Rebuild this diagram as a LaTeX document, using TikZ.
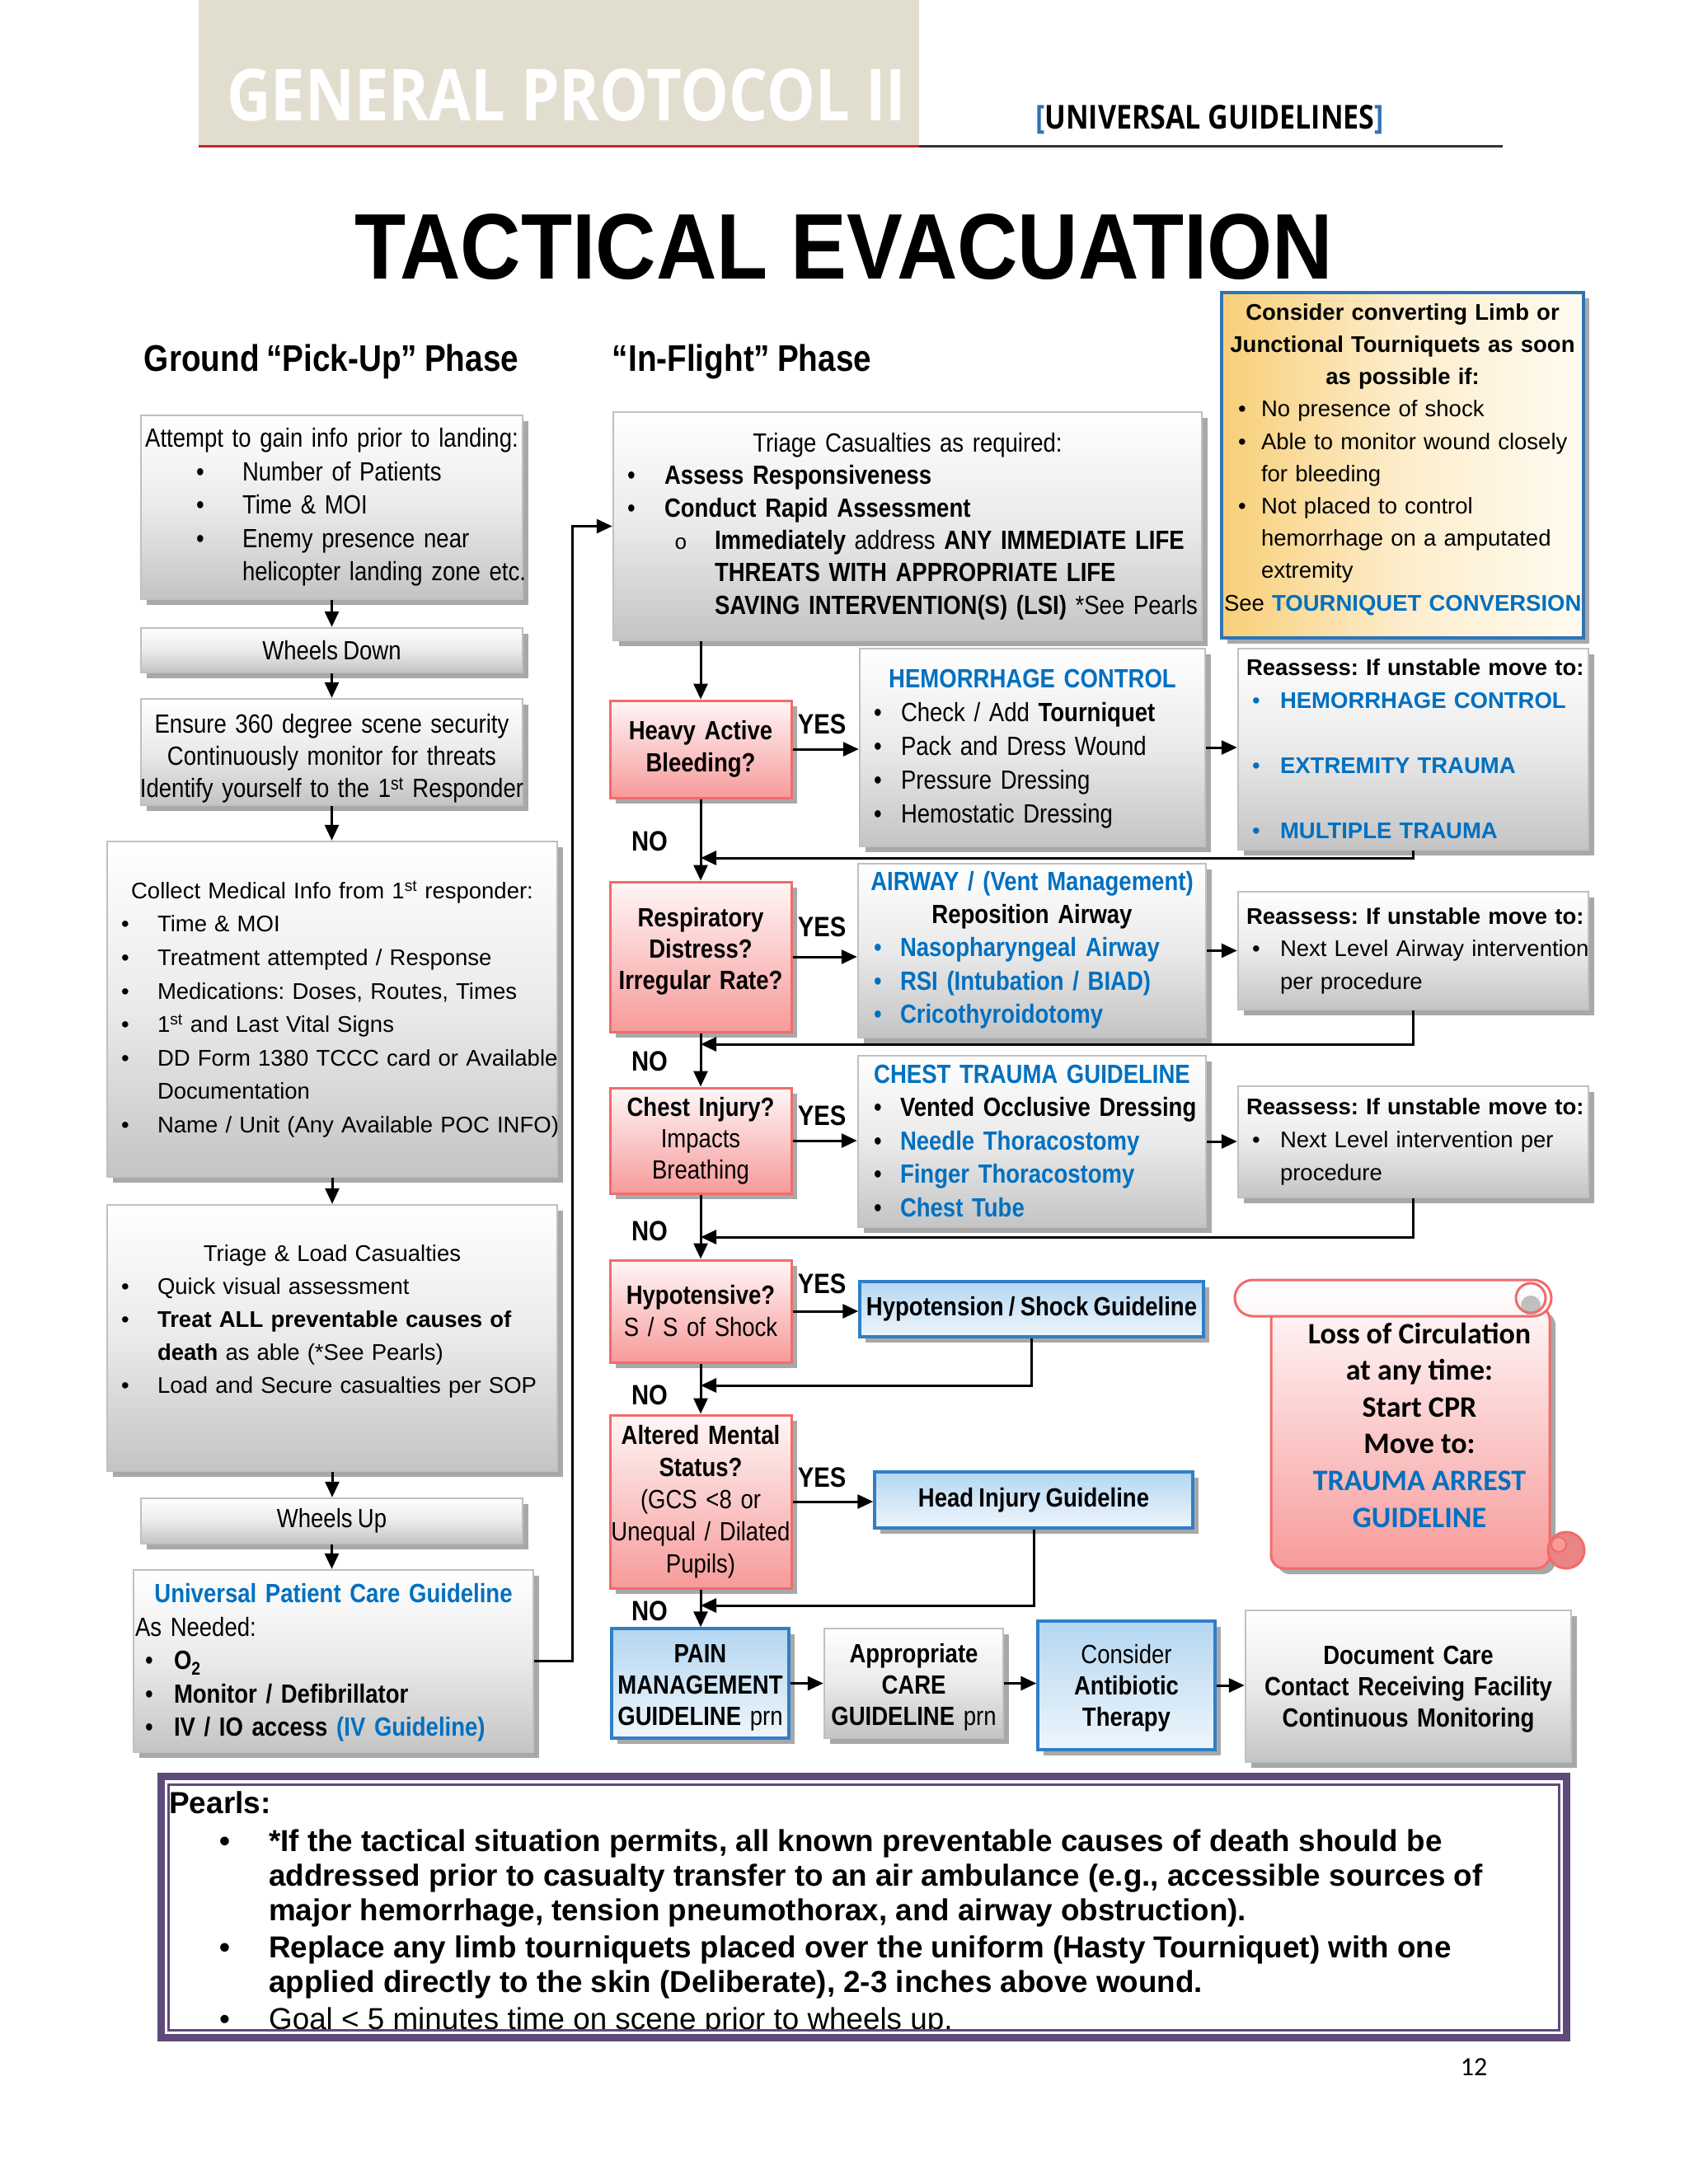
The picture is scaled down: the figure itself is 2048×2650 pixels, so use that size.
\documentclass[tikz,border=0pt]{standalone}
\usepackage{fontspec}
\usetikzlibrary{arrows.meta,shadows}
\setmainfont{Liberation Sans}
\newfontfamily\nar{Liberation Sans}[FakeStretch=0.86,WordSpace=0.82]
\newfontfamily\titlef{Liberation Sans}[FakeStretch=0.9]
\newfontfamily\calfont{Carlito}
\newfontfamily\osfont{Open Sans}[FakeStretch=0.85]
\newfontfamily\monofont{Liberation Mono}
\AtBeginDocument{\frenchspacing}
\definecolor{blu}{HTML}{0070C0}
\definecolor{blu2}{HTML}{2E74B5}
\definecolor{beige}{HTML}{E2DECF}
\definecolor{hdrred}{HTML}{C0282D}
\definecolor{gborder}{HTML}{C0C0C0}
\definecolor{gmid}{HTML}{EAEAEA}
\definecolor{gbot}{HTML}{C4C4C4}
\definecolor{shadowc}{HTML}{A8A8A8}
\definecolor{rborder}{HTML}{F26B6B}
\definecolor{rtop}{HTML}{FFF6F6}
\definecolor{rmid}{HTML}{FBC8C8}
\definecolor{rbot}{HTML}{F79A9A}
\definecolor{rroll}{HTML}{E98585}
\definecolor{bborder}{HTML}{2F7FC6}
\definecolor{btop}{HTML}{B4D6F1}
\definecolor{bbot}{HTML}{EEF6FC}
\definecolor{yleft}{HTML}{F8CF78}
\definecolor{yright}{HTML}{FFFBF0}
\definecolor{ymid}{HTML}{FDEDCC}
\definecolor{purp}{HTML}{5E4A7B}
\newcommand\cl[1]{\hbox to\linewidth{\hss#1\hss}\par}
\newcommand\bitem[4][black]{\noindent\hbox to #3{\hskip#2\textcolor{#1}{\textbullet}\hss}\mbox{#4}\par}
\newcommand\bcont[2]{\noindent\hbox to #1{}\mbox{#2}\par}
\newcommand\lft[1]{\noindent\mbox{#1}\par}
\tikzset{
  shad/.style={drop shadow={shadow xshift=7pt, shadow yshift=-7pt, fill=shadowc, opacity=1}},
  gbox/.style={shad, draw=gborder, line width=2.5pt, top color=white, bottom color=gbot, middle color=gmid, inner ysep=0pt},
  rbox/.style={shad, draw=rborder, line width=3pt, top color=rtop, bottom color=rbot, middle color=rmid, inner xsep=4pt, inner ysep=0pt},
  bbox/.style={shad, draw=bborder, line width=3.5pt, top color=btop, bottom color=bbot, inner sep=0pt},
  nfont/.style={font=\nar\fontsize{32}{#1}\selectfont}, nfont/.default=40,
  nbfont/.style={font=\nar\bfseries\fontsize{32}{#1}\selectfont}, nbfont/.default=39,
  afont/.style={font=\fontsize{27.5}{#1}\selectfont}, afont/.default=40.6,
  arr/.style={line width=3pt, -{Triangle[length=19pt,width=17pt]}},
  lab/.style={font=\nar\bfseries\fontsize{34}{34}\selectfont, inner sep=0pt},
}
\begin{document}
\begin{tikzpicture}[x=1pt,y=-1pt]
\useasboundingbox (0,0) rectangle (2048,2650);
\fill[white] (0,0) rectangle (2048,2650);
% header
\fill[beige] (241,0) rectangle (1115,176);
\draw[hdrred, line width=3pt] (241,177.5) -- (1115,177.5);
\draw[black!80, line width=2.5pt] (1115,177.5) -- (1823,177.5);
\node[anchor=base west, text=white, font=\osfont\bfseries\fontsize{87}{87}\selectfont, inner sep=0pt] (gp) at (275,146) {GENERAL PROTOCOL II};
\node[anchor=base west, font=\osfont\bfseries\fontsize{40}{40}\selectfont, inner sep=0pt] (ug) at (1256,156) {\textcolor{blu2}{[}UNIVERSAL GUIDELINES\textcolor{blu2}{]}};
\node[anchor=base, font=\titlef\bfseries\fontsize{113}{113}\selectfont, inner sep=0pt] (title) at (1024,338) {TACTICAL EVACUATION};
\node[anchor=base, font=\nar\bfseries\fontsize{45}{50}\selectfont, inner sep=0pt] (gh) at (402,450) {Ground “Pick-Up” Phase};
\node[anchor=base, font=\nar\bfseries\fontsize{45}{50}\selectfont, inner sep=0pt] (ih) at (900,450) {“In-Flight” Phase};

% left column
\node[gbox, nfont=40.6, minimum width=463pt, minimum height=223pt, text width=447pt, inner xsep=8pt] (attempt) at (402.5,615.5) {%
\cl{Attempt to gain info prior to landing:}
\bitem{59pt}{115pt}{Number of Patients}
\bitem{59pt}{115pt}{Time \& MOI}
\bitem{59pt}{115pt}{Enemy presence near}
\bcont{115pt}{helicopter landing zone etc.}};
\node[gbox, nfont, minimum width=463pt, minimum height=54pt, inner xsep=0pt] (wdown) at (402.5,789) {Wheels Down};
\node[gbox, nfont=39, minimum width=463pt, minimum height=129pt, text width=455pt, inner xsep=4pt] (ensure) at (402.5,912.5) {%
\cl{Ensure 360 degree scene security}
\cl{Continuously monitor for threats}
\cl{Identify yourself to the 1\textsuperscript{st} Responder}
\kern-16pt};
\node[gbox, afont=40.6, minimum width=546pt, minimum height=407pt, text width=534pt, inner xsep=6pt] (collect) at (403,1224.5) {%
\cl{Collect Medical Info from 1\textsuperscript{st} responder:}
\bitem{11pt}{55pt}{Time \& MOI}
\bitem{11pt}{55pt}{Treatment attempted / Response}
\bitem{11pt}{55pt}{Medications: Doses, Routes, Times}
\bitem{11pt}{55pt}{1\textsuperscript{st} and Last Vital Signs}
\bitem{11pt}{55pt}{DD Form 1380 TCCC card or Available}
\bcont{55pt}{Documentation}
\bitem{11pt}{55pt}{Name / Unit (Any Available POC INFO)}};
\node[gbox, afont=40, minimum width=546pt, minimum height=323pt, text width=534pt, inner xsep=6pt] (tload) at (403,1623.5) {%
\cl{Triage \& Load Casualties}
\bitem{11pt}{55pt}{Quick visual assessment}
\bitem{11pt}{55pt}{\bfseries Treat ALL preventable causes of}
\bcont{55pt}{\textbf{death} as able (*See Pearls)}
\bitem{11pt}{55pt}{Load and Secure casualties per SOP}
\kern40pt};
\node[gbox, nfont, minimum width=463pt, minimum height=55pt, inner xsep=0pt] (wup) at (402.5,1845.5) {Wheels Up};
\node[gbox, nfont=40.5, minimum width=485pt, minimum height=221pt, text width=481pt, inner xsep=2pt] (upc) at (404.5,2015.5) {%
\cl{\bfseries\color{blu}Universal Patient Care Guideline}
\lft{As Needed:}
\bitem{12pt}{47pt}{\bfseries O\textsubscript{2}}
\bitem{12pt}{47pt}{\bfseries Monitor / Defibrillator}
\bitem{12pt}{47pt}{\bfseries IV / IO access \textcolor{blu}{(IV Guideline)}}
\kern-4pt};

% middle column
\node[gbox, nfont=39.4, minimum width=714pt, minimum height=277pt, text width=698pt, inner xsep=8pt] (triage) at (1101,638.5) {%
\cl{Triage Casualties as required:}
\bitem{9pt}{54pt}{\bfseries Assess Responsiveness}
\bitem{9pt}{54pt}{\bfseries Conduct Rapid Assessment}
\noindent\hbox to 115pt{\hskip66pt{\monofont\fontsize{26}{26}\selectfont o}\hss}\mbox{\bfseries Immediately \mdseries address \bfseries ANY IMMEDIATE LIFE}\par
\bcont{115pt}{\bfseries THREATS WITH APPROPRIATE LIFE}
\bcont{115pt}{\bfseries SAVING INTERVENTION(S) (LSI) \mdseries *See Pearls}};

\node[rbox, nbfont, minimum width=220pt, minimum height=118pt, text width=212pt] (bleed) at (850,909) {%
\cl{Heavy Active}
\cl{Bleeding?}};
\node[gbox, nfont=41, minimum width=419pt, minimum height=240pt, text width=403pt, inner xsep=8pt] (hem) at (1252.5,907) {%
\cl{\bfseries\color{blu}HEMORRHAGE CONTROL}
\bitem{9pt}{42pt}{Check / Add \textbf{Tourniquet}}
\bitem{9pt}{42pt}{Pack and Dress Wound}
\bitem{9pt}{42pt}{Pressure Dressing}
\bitem{9pt}{42pt}{Hemostatic Dressing}
\kern-4pt};
\node[gbox, afont=40, minimum width=425pt, minimum height=244pt, text width=413pt, inner xsep=6pt] (re1) at (1714.5,909) {%
\lft{\hskip4pt\bfseries Reassess: If unstable move to:}
\bitem[blu]{11pt}{45pt}{\bfseries\color{blu}HEMORRHAGE CONTROL}
\vskip39pt
\bitem[blu]{11pt}{45pt}{\bfseries\color{blu}EXTREMITY TRAUMA}
\vskip39pt
\bitem[blu]{11pt}{45pt}{\bfseries\color{blu}MULTIPLE TRAUMA}};

\node[rbox, nbfont=38, minimum width=220pt, minimum height=182pt, text width=212pt] (resp) at (850,1161) {%
\cl{Respiratory}
\cl{Distress?}
\cl{Irregular Rate?}
\kern14pt};
\node[gbox, nfont=40.3, minimum width=422pt, minimum height=211pt, text width=406pt, inner xsep=8pt] (airway) at (1252,1153.5) {%
\cl{\bfseries\color{blu}AIRWAY / (Vent Management)}
\cl{\bfseries Reposition Airway}
\bitem[blu]{11pt}{43pt}{\bfseries\color{blu}Nasopharyngeal Airway}
\bitem[blu]{11pt}{43pt}{\bfseries\color{blu}RSI (Intubation / BIAD)}
\bitem[blu]{11pt}{43pt}{\bfseries\color{blu}Cricothyroidotomy}
\kern2pt};
\node[gbox, afont=39.5, minimum width=425pt, minimum height=143pt, text width=413pt, inner xsep=6pt] (re2) at (1714.5,1153.5) {%
\lft{\hskip4pt\bfseries Reassess: If unstable move to:}
\bitem{11pt}{45pt}{Next Level Airway intervention}
\bcont{45pt}{per procedure}};

\node[rbox, nbfont=38, minimum width=220pt, minimum height=128pt, text width=212pt] (chest) at (850,1384) {%
\cl{Chest Injury?}
\cl{\mdseries Impacts}
\cl{\mdseries Breathing}};
\node[gbox, nfont=40.5, minimum width=422pt, minimum height=208pt, text width=406pt, inner xsep=8pt] (chesttr) at (1252,1385) {%
\cl{\bfseries\color{blu}CHEST TRAUMA GUIDELINE}
\bitem{11pt}{43pt}{\bfseries Vented Occlusive Dressing}
\bitem{11pt}{43pt}{\bfseries\color{blu}Needle Thoracostomy}
\bitem{11pt}{43pt}{\bfseries\color{blu}Finger Thoracostomy}
\bitem{11pt}{43pt}{\bfseries\color{blu}Chest Tube}
\kern2pt};
\node[gbox, afont=40, minimum width=425pt, minimum height=135pt, text width=413pt, inner xsep=6pt] (re3) at (1714.5,1385.5) {%
\lft{\hskip4pt\bfseries Reassess: If unstable move to:}
\bitem{11pt}{45pt}{Next Level intervention per}
\bcont{45pt}{procedure}};

\node[rbox, nbfont, minimum width=220pt, minimum height=124pt, text width=212pt] (hypq) at (850,1591) {%
\cl{Hypotensive?}
\cl{\mdseries S / S of Shock}};
\node[bbox, nbfont, minimum width=417pt, minimum height=67pt] (hypo) at (1251.5,1588.5) {Hypotension / Shock Guideline};

\node[rbox, nbfont, minimum width=220pt, minimum height=210pt, text width=212pt] (ams) at (850,1822) {%
\cl{Altered Mental}
\cl{Status?}
\cl{\mdseries (GCS <8 or}
\cl{\mdseries Unequal / Dilated}
\cl{\mdseries Pupils)}};
\node[bbox, nbfont, minimum width=386pt, minimum height=68pt] (head) at (1254,1820) {Head Injury Guideline};

% bottom row
\node[bbox, nbfont=38, minimum width=215pt, minimum height=133pt, text width=211pt, inner xsep=2pt] (pain) at (849.5,2042.5) {%
\cl{PAIN}
\cl{MANAGEMENT}
\cl{GUIDELINE \mdseries prn}
\kern-10pt};
\node[gbox, nbfont=38, minimum width=217pt, minimum height=133pt, text width=211pt, inner xsep=3pt] (appr) at (1108.5,2042.5) {%
\cl{Appropriate}
\cl{CARE}
\cl{GUIDELINE \mdseries prn}
\kern-10pt};
\node[bbox, nbfont=38, minimum width=215pt, minimum height=156pt, text width=211pt, inner xsep=2pt] (cons) at (1366.5,2045) {%
\cl{\mdseries Consider}
\cl{Antibiotic}
\cl{Therapy}
\kern-6pt};
\node[gbox, nbfont=38, minimum width=395pt, minimum height=184pt, text width=385pt, inner xsep=5pt] (doc) at (1708.5,2046) {%
\cl{Document Care}
\cl{Contact Receiving Facility}
\cl{Continuous Monitoring}
\kern-8pt};

% tourniquet box
\node[shad, draw=blu2, line width=4pt, left color=yleft, right color=yright, middle color=ymid, afont=39.2, minimum width=439pt, minimum height=419pt, text width=433pt, inner xsep=3pt, inner ysep=0pt] (tq) at (1701.5,564.5) {%
\cl{\bfseries Consider converting Limb or}
\cl{\bfseries Junctional Tourniquets as soon}
\cl{\bfseries as possible if:}
\bitem{17pt}{45pt}{No presence of shock}
\bitem{17pt}{45pt}{Able to monitor wound closely}
\bcont{45pt}{for bleeding}
\bitem{17pt}{45pt}{Not placed to control}
\bcont{45pt}{hemorrhage on a amputated}
\bcont{45pt}{extremity}
\lft{See \textbf{\color{blu}TOURNIQUET CONVERSION}}
\kern14pt};

% scroll
\path[shad, draw=rborder, line width=3pt, top color=rtop, bottom color=rbot, middle color=rmid, rounded corners=16pt] (1542,1585) rectangle (1880,1903);
\draw[draw=rborder, line width=3pt, fill=rroll] (1900,1881) circle[radius=22pt];
\draw[draw=rborder, line width=2pt, fill=rbot] (1891,1874) circle[radius=9pt];
\draw[draw=rborder, line width=3pt, top color=white, bottom color=rtop, rounded corners=22pt] (1498,1553) rectangle (1882,1597);
\fill[gray!50] (1857,1584) circle[radius=12pt];
\draw[draw=rborder, line width=3pt] (1857,1575) circle[radius=18pt];
\node[font=\calfont\bfseries\fontsize{36}{44.6}\selectfont, align=center, inner sep=0pt] (loss) at (1722,1729) {Loss of Circulation\\at any time:\\Start CPR\\Move to:\\\textcolor{blu}{TRAUMA ARREST}\\\textcolor{blu}{GUIDELINE}};

% connectors
\draw[arr] (attempt.south) -- (attempt.south |- wdown.north);
\draw[arr] (wdown.south) -- (wdown.south |- ensure.north);
\draw[arr] (ensure.south) -- (ensure.south |- collect.north);
\draw[arr] (collect.south) -- (collect.south |- tload.north);
\draw[arr] (tload.south) -- (tload.south |- wup.north);
\draw[arr] (wup.south) -- (wup.south |- upc.north);
\draw[arr] (upc.east) -- ++(46,0) |- (triage.west);

\draw[arr] (triage.south -| bleed.north) -- (bleed.north);
\draw[arr] (bleed.south) -- (resp.north);
\draw[arr] (resp.south) -- (chest.north);
\draw[arr] (chest.south) -- (hypq.north);
\draw[arr] (hypq.south) -- (ams.north);
\draw[arr] (ams.south) -- (ams.south |- pain.north);

\draw[arr] (bleed.east) -- (bleed.east -| hem.west);
\draw[arr] (resp.east) -- (resp.east -| airway.west);
\draw[arr] (chest.east) -- (chest.east -| chesttr.west);
\draw[arr] (hypq.east) -- (hypq.east -| hypo.west);
\draw[arr] (ams.east) -- (ams.east -| head.west);
\draw[arr] (hem.east) -- (hem.east -| re1.west);
\draw[arr] (airway.east) -- (airway.east -| re2.west);
\draw[arr] (chesttr.east) -- (chesttr.east -| re3.west);
\draw[arr] (pain.east) -- (pain.east -| appr.west);
\draw[arr] (appr.east) -- (appr.east -| cons.west);
\draw[arr] (cons.east) -- (cons.east -| doc.west);

\coordinate (j1) at (850,1041);
\coordinate (j2) at (850,1267);
\coordinate (j3) at (850,1501);
\coordinate (j4) at (850,1681);
\coordinate (j5) at (850,1948);
\draw[arr] (re1.south) |- (j1);
\draw[arr] (re2.south) |- (j2);
\draw[arr] (re3.south) |- (j3);
\draw[arr] (hypo.south) |- (j4);
\draw[arr] (head.south) |- (j5);

% labels
\node[lab] (y1) at (997,879) {YES};
\node[lab] (y2) at (997,1125) {YES};
\node[lab] (y3) at (997,1354) {YES};
\node[lab] (y4) at (997,1558) {YES};
\node[lab] (y5) at (997,1793) {YES};
\node[lab] (n1) at (788,1021) {NO};
\node[lab] (n2) at (788,1288) {NO};
\node[lab] (n3) at (788,1494) {NO};
\node[lab] (n4) at (788,1693) {NO};
\node[lab] (n5) at (788,1955) {NO};

% pearls
\draw[purp, line width=9pt] (195.5,2155.5) rectangle (1900.5,2472.5);
\draw[purp, line width=3pt] (204,2165) rectangle (1891,2463);
\node[anchor=base west, font=\bfseries\fontsize{37}{37}\selectfont, inner sep=0pt] (p0) at (205,2200) {Pearls:};
\begin{scope}[every node/.style={anchor=base west, font=\bfseries\fontsize{36.8}{36.8}\selectfont, inner sep=0pt}]
\node (p1) at (266,2246) {\hbox to 60pt{\textbullet\hss}*If the tactical situation permits, all known preventable causes of death should be};
\node (p2) at (326,2288) {addressed prior to casualty transfer to an air ambulance (e.g., accessible sources of};
\node (p3) at (326,2330) {major hemorrhage, tension pneumothorax, and airway obstruction).};
\node (p4) at (266,2375) {\hbox to 60pt{\textbullet\hss}Replace any limb tourniquets placed over the uniform (Hasty Tourniquet) with one};
\node (p5) at (326,2417) {applied directly to the skin (Deliberate), 2-3 inches above wound.};
\end{scope}
\begin{scope}
\clip (200,2300) rectangle (1895,2462);
\node[anchor=base west, font=\fontsize{36.8}{36.8}\selectfont, inner sep=0pt] (p6) at (266,2462) {\hbox to 60pt{\textbullet\hss}Goal < 5 minutes time on scene prior to wheels up.};
\end{scope}
\draw[purp, line width=3pt] (204,2463) -- (1891,2463);
\node[font=\calfont\fontsize{32}{32}\selectfont, inner sep=0pt] (pg) at (1788,2508) {12};
\end{tikzpicture}
\end{document}
